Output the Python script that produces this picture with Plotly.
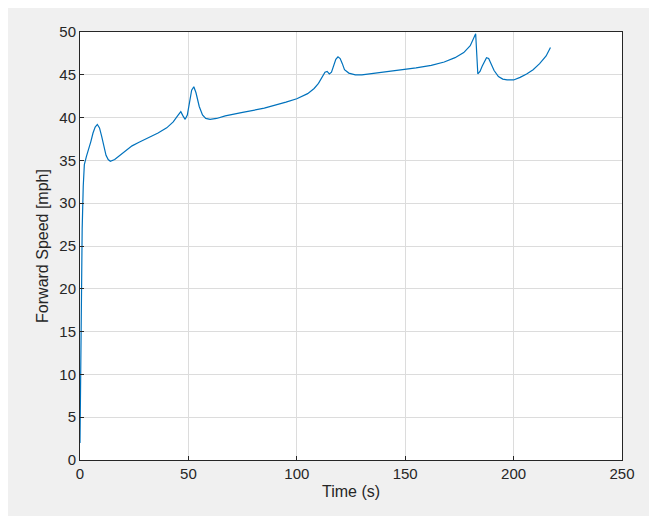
import plotly.graph_objects as go

# time (s) and forward speed (mph)
time_s = [0, 0.5, 1, 1.5, 2, 3, 4, 5, 6, 7, 8, 9, 10, 11, 12, 13, 14, 16, 18, 20, 24, 27,
          32, 36, 40, 43, 45, 46.5, 47.5, 48.5, 49.5, 50.5, 51.5, 52.5, 53.5, 55, 56.5, 58,
          60, 63, 67, 75, 85, 95, 100, 105, 108, 110, 111.5, 113, 114, 115, 116, 117, 118,
          119, 120, 121, 122, 124, 127, 130, 137, 145, 155, 162, 168, 173, 177, 180, 181.5,
          182.5, 183.5, 184.5, 185.5, 186.5, 187.5, 188.5, 189.5, 191, 193, 195, 197, 200,
          203, 206, 209, 212, 215, 217]
speed_mph = [2, 15, 27, 32, 34.5, 35.5, 36.3, 37.2, 38.2, 38.9, 39.2, 38.8, 37.8, 36.6, 35.6, 35.1, 34.9, 35.1, 35.5, 35.9, 36.7, 37.1,
             37.7, 38.2, 38.8, 39.5, 40.2, 40.7, 40.2, 39.8, 40.3, 41.8, 43.2, 43.6, 42.9, 41.3, 40.3, 39.9,
             39.8, 39.9, 40.2, 40.6, 41.1, 41.8, 42.2, 42.8, 43.4, 44.0, 44.7, 45.3, 45.4, 45.1, 45.3, 46.2, 46.8,
             47.1, 46.9, 46.3, 45.6, 45.2, 45.0, 45.0, 45.2, 45.5, 45.8, 46.1, 46.5, 47.0, 47.6, 48.4, 49.2,
             49.8, 45.1, 45.4, 46.0, 46.6, 47.0, 46.9, 46.4, 45.5, 44.8, 44.5, 44.4, 44.4,
             44.7, 45.1, 45.6, 46.3, 47.2, 48.2]

fig = go.Figure(go.Scatter(x=time_s, y=speed_mph, mode="lines",
                           line=dict(color="#0072BD", width=1.2)))

axis = dict(showgrid=True, gridcolor="#dcdcdc", zeroline=False, showline=True,
            linecolor="#262626", linewidth=1, mirror=True, ticks="inside",
            ticklen=4, tickcolor="#262626", tickfont=dict(size=15, color="#262626"))
fig.update_layout(
    width=657, height=516, paper_bgcolor="#f0f0f0", plot_bgcolor="white",
    margin=dict(l=72, r=43, t=24, b=64), showlegend=False,
    font=dict(family="Liberation Sans, Arial, sans-serif", color="#262626"),
    xaxis=dict(axis, range=[0, 250], dtick=50,
               title=dict(text="Time (s)", font=dict(size=16), standoff=4)),
    yaxis=dict(axis, range=[0, 50], dtick=5,
               title=dict(text="Forward Speed [mph]", font=dict(size=16), standoff=6)),
)
fig.write_html("out.html")
